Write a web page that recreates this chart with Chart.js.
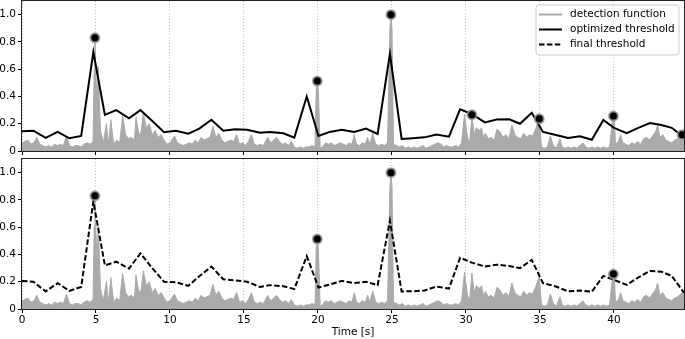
<!DOCTYPE html>
<html>
<head>
<meta charset="utf-8">
<script src="https://cdn.jsdelivr.net/npm/chart.js@4.4.1/dist/chart.umd.min.js"></script>
<style>
  html, body { margin: 0; padding: 0; background: #fff; }
  #wrap { position: relative; width: 685px; height: 339px; }
  canvas { position: absolute; left: 0; }
  #topChart { top: 0; }
  #bottomChart { top: 154px; }
</style>
</head>
<body>
<div id="wrap">
  <canvas id="topChart" width="685" height="157"></canvas>
  <canvas id="bottomChart" width="685" height="185"></canvas>
</div>
<script>
// axis ranges
const xMax = 44.73;
const yMax = 1.1;
const seriesNames = ['detection function', 'optimized threshold', 'final threshold'];

// detection function (time [s] / value)
const detTimes = [
  0, 0.2, 0.4, 0.6, 0.8, 1, 1.2, 1.4, 1.6, 1.8, 2, 2.2, 2.4, 2.6, 2.8, 3, 3.2, 3.4, 3.6, 3.8, 4, 4.2, 4.4, 4.6, 4.8,
  4.88, 4.93, 5, 5.08, 5.15, 5.3, 5.5, 5.7, 5.85, 6, 6.2, 6.4, 6.6, 6.8, 7, 7.2, 7.4, 7.6, 7.7, 7.9, 8.05, 8.2, 8.4, 8.6, 8.8, 9, 9.2, 9.4, 9.6, 9.8,
  10, 10.3, 10.5, 10.7, 10.9, 11.1, 11.3, 11.5, 11.7, 11.9, 12.1, 12.3, 12.5, 12.7, 12.9, 13.1, 13.3, 13.5, 13.7, 13.9, 14.1, 14.3, 14.5, 14.7, 14.9,
  15.1, 15.3, 15.5, 15.7, 15.9, 16.1, 16.3, 16.6, 16.8, 17, 17.2, 17.4, 17.6, 17.8, 18, 18.2, 18.4, 18.6, 18.8, 19, 19.2, 19.4, 19.6, 19.8,
  19.88, 19.95, 20.02, 20.15, 20.3, 20.5, 20.7, 20.9, 21.1, 21.3, 21.5, 21.7, 21.9, 22.1, 22.3, 22.45, 22.6, 22.8, 23, 23.2, 23.35, 23.5, 23.7, 23.9, 24.1, 24.3, 24.5, 24.7, 24.86, 24.93, 25,
  25.1, 25.3, 25.5, 25.7, 25.9, 26.1, 26.3, 26.5, 26.7, 26.9, 27.1, 27.3, 27.5, 27.7, 27.9, 28.1, 28.3, 28.5, 28.7, 28.9, 29.1, 29.3, 29.5, 29.7,
  29.9, 30.1, 30.25, 30.4, 30.55, 30.7, 30.9, 31.05, 31.2, 31.3, 31.5, 31.7, 31.9, 32.1, 32.3, 32.5, 32.7, 32.9, 33.1, 33.3, 33.5, 33.7, 33.9, 34.1, 34.3, 34.5, 34.7, 34.95,
  35.1, 35.3, 35.5, 35.7, 35.9, 36.1, 36.35, 36.5, 36.7, 36.9, 37.1, 37.3, 37.5, 37.7, 37.9, 38.1, 38.3, 38.5, 38.7, 38.9, 39.1, 39.3, 39.5, 39.7, 39.89, 39.96,
  40.03, 40.1, 40.3, 40.45, 40.6, 40.8, 41, 41.2, 41.4, 41.6, 41.8, 42, 42.2, 42.4, 42.6, 42.8, 42.95, 43.1, 43.3, 43.5, 43.7, 43.9, 44.1, 44.3, 44.5, 44.6, 44.73
];
const detValues = [
  0.06, 0.07, 0.08, 0.05, 0.06, 0.10, 0.05, 0.04, 0.03, 0.04, 0.03, 0.05, 0.04, 0.05, 0.04, 0.11, 0.04, 0.03, 0.04, 0.04, 0.03, 0.05, 0.06, 0.05, 0.07,
  0.6, 0.83, 0.55, 0.35, 0.62, 0.15, 0.06, 0.20, 0.05, 0.23, 0.05, 0.08, 0.06, 0.26, 0.12, 0.09, 0.10, 0.08, 0.25, 0.12, 0.14, 0.28, 0.17, 0.20, 0.12, 0.15, 0.10, 0.12, 0.08, 0.05,
  0.06, 0.11, 0.06, 0.05, 0.04, 0.05, 0.06, 0.05, 0.08, 0.06, 0.10, 0.08, 0.09, 0.10, 0.18, 0.10, 0.13, 0.08, 0.06, 0.07, 0.08, 0.07, 0.12, 0.05, 0.06,
  0.04, 0.07, 0.12, 0.05, 0.04, 0.05, 0.04, 0.10, 0.06, 0.08, 0.10, 0.07, 0.05, 0.06, 0.04, 0.07, 0.03, 0.02, 0.03, 0.02, 0.03, 0.03, 0.04, 0.03,
  0.45, 0.513, 0.45, 0.02, 0.03, 0.06, 0.05, 0.06, 0.04, 0.05, 0.06, 0.05, 0.04, 0.06, 0.05, 0.12, 0.05, 0.04, 0.06, 0.05, 0.10, 0.05, 0.13, 0.05, 0.04, 0.05, 0.04, 0.06, 0.9, 1.0, 0.9,
  0.05, 0.04, 0.03, 0.04, 0.02, 0.03, 0.02, 0.03, 0.02, 0.03, 0.04, 0.02, 0.03, 0.04, 0.05, 0.06, 0.05, 0.03, 0.04, 0.03, 0.03, 0.04, 0.03, 0.06,
  0.27, 0.10, 0.06, 0.265, 0.12, 0.17, 0.15, 0.17, 0.09, 0.13, 0.09, 0.10, 0.08, 0.16, 0.14, 0.10, 0.12, 0.09, 0.19, 0.12, 0.10, 0.09, 0.13, 0.10, 0.12, 0.11, 0.16, 0.236,
  0.03, 0.02, 0.03, 0.11, 0.04, 0.02, 0.09, 0.03, 0.02, 0.03, 0.02, 0.03, 0.02, 0.04, 0.06, 0.03, 0.02, 0.03, 0.02, 0.03, 0.02, 0.03, 0.02, 0.03, 0.22, 0.256,
  0.22, 0.05, 0.07, 0.12, 0.06, 0.05, 0.04, 0.06, 0.05, 0.07, 0.05, 0.09, 0.10, 0.08, 0.11, 0.14, 0.19, 0.10, 0.12, 0.08, 0.07, 0.06, 0.08, 0.09, 0.11, 0.12, 0.13
];

// threshold nodes (shared times)
const thrTimes = [
  0, 0.77, 1.6, 2.41, 3.2, 4.0, 4.82, 5.6, 6.37, 7.23, 8.0, 8.8, 9.6, 10.4, 11.24, 11.98, 12.8, 13.6, 14.4,
  15.2, 16.08, 16.76, 17.66, 18.4, 19.24, 20.03, 20.8, 21.6, 22.45, 23.24, 24.03, 24.86, 25.65, 26.4, 27.2, 28.0, 28.85,
  29.6, 30.4, 31.28, 32.07, 32.93, 33.65, 34.44, 35.2, 36.08, 36.9, 37.7, 38.5, 39.28, 40.0, 40.86, 41.64, 42.43, 43.2, 43.9, 44.73
];
const optThreshold = [
  0.145, 0.149, 0.096, 0.14, 0.093, 0.11, 0.726, 0.265, 0.30, 0.24, 0.30, 0.22, 0.137, 0.149, 0.127, 0.164, 0.229, 0.149, 0.159,
  0.155, 0.134, 0.14, 0.13, 0.098, 0.40, 0.11, 0.14, 0.155, 0.14, 0.165, 0.125, 0.714, 0.088, 0.094, 0.10, 0.12, 0.105,
  0.305, 0.27, 0.21, 0.231, 0.233, 0.20, 0.28, 0.14, 0.118, 0.096, 0.108, 0.082, 0.228, 0.17, 0.13, 0.17, 0.205, 0.19, 0.17, 0.10
];
const finalThreshold = [
  0.206, 0.20, 0.129, 0.19, 0.133, 0.162, 0.79, 0.32, 0.347, 0.296, 0.408, 0.30, 0.20, 0.196, 0.17, 0.24, 0.311, 0.218, 0.21,
  0.20, 0.162, 0.175, 0.167, 0.146, 0.388, 0.158, 0.18, 0.206, 0.19, 0.20, 0.175, 0.648, 0.129, 0.13, 0.136, 0.165, 0.15,
  0.376, 0.34, 0.311, 0.325, 0.315, 0.30, 0.36, 0.19, 0.165, 0.129, 0.136, 0.126, 0.243, 0.214, 0.177, 0.231, 0.279, 0.274, 0.243, 0.12
];

// detected peaks
const peakTimesTop = [4.93, 19.95, 24.93, 30.4, 34.95, 39.96, 44.6];
const peakValuesTop = [0.83, 0.513, 1.0, 0.265, 0.236, 0.256, 0.12];
const peakTimesBottom = [4.93, 19.95, 24.93, 39.96];
const peakValuesBottom = [0.83, 0.513, 1.0, 0.256];

const GRAY = '#aaaaaa';

Chart.defaults.font.family = "'DejaVu Sans', sans-serif";
Chart.defaults.font.size = 10.5;
Chart.defaults.color = '#000';

function toPoints(xs, ys) {
  return xs.map((x, i) => ({ x: x, y: ys[i] }));
}

// black frame around the plot area
const framePlugin = {
  id: 'frame',
  afterDatasetsDraw(chart) {
    const a = chart.chartArea;
    const ctx = chart.ctx;
    ctx.save();
    ctx.strokeStyle = '#222';
    ctx.lineWidth = 1;
    ctx.strokeRect(a.left - 0.5, a.top - 0.5, a.right - a.left + 1, a.bottom - a.top + 1);
    ctx.restore();
  }
};

// legend box in the upper right corner
const legendItems = [
  { label: seriesNames[0], color: GRAY, dash: [] },
  { label: seriesNames[1], color: '#000', dash: [] },
  { label: seriesNames[2], color: '#000', dash: [5.5, 2.4] }
];
const legendPlugin = {
  id: 'boxLegend',
  afterDraw(chart) {
    const a = chart.chartArea;
    const ctx = chart.ctx;
    const w = 143, h = 50, r = 3;
    const x0 = a.right - 5 - w, y0 = a.top + 4;
    ctx.save();
    ctx.beginPath();
    ctx.moveTo(x0 + r, y0);
    ctx.lineTo(x0 + w - r, y0);
    ctx.arcTo(x0 + w, y0, x0 + w, y0 + r, r);
    ctx.lineTo(x0 + w, y0 + h - r);
    ctx.arcTo(x0 + w, y0 + h, x0 + w - r, y0 + h, r);
    ctx.lineTo(x0 + r, y0 + h);
    ctx.arcTo(x0, y0 + h, x0, y0 + h - r, r);
    ctx.lineTo(x0, y0 + r);
    ctx.arcTo(x0, y0, x0 + r, y0, r);
    ctx.closePath();
    ctx.fillStyle = 'rgba(255,255,255,0.85)';
    ctx.fill();
    ctx.strokeStyle = '#cccccc';
    ctx.lineWidth = 1;
    ctx.stroke();

    ctx.font = "10.5px 'DejaVu Sans', sans-serif";
    ctx.textBaseline = 'middle';
    ctx.textAlign = 'left';
    legendItems.forEach((item, i) => {
      const y = y0 + 9.5 + i * 15;
      ctx.beginPath();
      ctx.setLineDash(item.dash);
      ctx.strokeStyle = item.color;
      ctx.lineWidth = 2;
      ctx.moveTo(x0 + 3, y);
      ctx.lineTo(x0 + 26, y);
      ctx.stroke();
      ctx.setLineDash([]);
      ctx.fillStyle = '#000';
      ctx.fillText(item.label, x0 + 34, y);
    });
    ctx.restore();
  }
};

function makeScales(showXLabels, xHeight) {
  return {
    x: {
      type: 'linear',
      min: 0,
      max: xMax,
      ticks: {
        display: showXLabels,
        stepSize: 5,
        includeBounds: false,
        autoSkip: false,
        maxRotation: 0,
        padding: 1,
        callback: v => String(v)
      },
      grid: { color: '#c4c4c4', lineWidth: 1, tickColor: '#000', tickLength: 4, tickBorderDash: [] },
      border: { display: false, dash: [1, 2] },
      title: { display: showXLabels, text: 'Time [s]', padding: { top: 0, bottom: 0 } },
      afterFit: s => { s.height = xHeight; s.paddingLeft = 0; s.paddingRight = 0; }
    },
    y: {
      min: 0,
      max: yMax,
      ticks: {
        stepSize: 0.2,
        includeBounds: false,
        padding: 2,
        callback: v => (Math.abs(v) < 1e-9 ? '0' : v.toFixed(1))
      },
      grid: { drawOnChartArea: false, tickColor: '#000', tickLength: 4 },
      border: { display: false },
      afterFit: s => { s.width = 22; s.paddingTop = 0; s.paddingBottom = 0; }
    }
  };
}

function detectionDataset() {
  return {
    label: seriesNames[0],
    data: toPoints(detTimes, detValues),
    borderColor: GRAY,
    backgroundColor: GRAY,
    borderWidth: 1,
    pointRadius: 0,
    fill: 'origin',
    order: 3,
    clip: 0
  };
}

function peakDataset(times, values) {
  return {
    label: 'peaks',
    data: toPoints(times, values),
    showLine: false,
    pointRadius: 4.5,
    pointBackgroundColor: '#000',
    pointBorderColor: 'rgba(150,150,150,0.8)',
    pointBorderWidth: 2,
    order: 1,
    clip: 0
  };
}

const commonOptions = {
  responsive: false,
  animation: false,
  devicePixelRatio: 1,
  plugins: { legend: { display: false }, tooltip: { enabled: false } }
};

// top panel: optimized threshold
new Chart(document.getElementById('topChart').getContext('2d'), {
  type: 'line',
  data: {
    datasets: [
      peakDataset(peakTimesTop, peakValuesTop),
      {
        label: seriesNames[1],
        data: toPoints(thrTimes, optThreshold),
        borderColor: '#000',
        borderWidth: 2,
        pointRadius: 0,
        fill: false,
        order: 2,
        clip: 0
      },
      detectionDataset()
    ]
  },
  options: Object.assign({}, commonOptions, {
    layout: { autoPadding: false, padding: { top: 1, right: 1, left: 0, bottom: 0 } },
    scales: makeScales(false, 6)
  }),
  plugins: [framePlugin, legendPlugin]
});

// bottom panel: final threshold
new Chart(document.getElementById('bottomChart').getContext('2d'), {
  type: 'line',
  data: {
    datasets: [
      peakDataset(peakTimesBottom, peakValuesBottom),
      {
        label: seriesNames[2],
        data: toPoints(thrTimes, finalThreshold),
        borderColor: '#000',
        borderWidth: 2,
        borderDash: [5.5, 2.4],
        pointRadius: 0,
        fill: false,
        order: 2,
        clip: 0
      },
      detectionDataset()
    ]
  },
  options: Object.assign({}, commonOptions, {
    layout: { autoPadding: false, padding: { top: 5, right: 1, left: 0, bottom: 0 } },
    scales: makeScales(true, 30)
  }),
  plugins: [framePlugin]
});
</script>
</body>
</html>
